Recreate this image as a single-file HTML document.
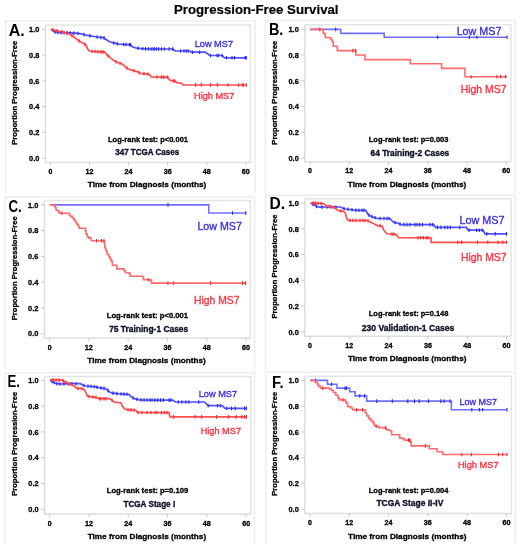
<!DOCTYPE html>
<html><head><meta charset="utf-8"><style>
html,body{margin:0;padding:0;background:#fff;width:520px;height:550px;overflow:hidden}
svg{display:block;filter:blur(0.4px)}
</style></head><body>
<svg width="520" height="550" viewBox="0 0 520 550" font-family='"Liberation Sans", sans-serif'><text x="174.00" y="13.80" font-size="12.7" font-weight="bold" text-anchor="start" fill="#000" textLength="164.50" lengthAdjust="spacingAndGlyphs" stroke="#000" stroke-width="0.2">Progression-Free Survival</text>
<path d="M5.50 192.50V20.80H255.00V192.50" fill="none" stroke="#eeeeee" stroke-width="1.6"/>
<path d="M45.40 25.00H250.40V162.40" fill="none" stroke="#e3e5e5" stroke-width="1.5"/>
<path d="M45.40 25.00V162.40H250.40" fill="none" stroke="#dcdfdf" stroke-width="1.5"/>
<text x="8.66" y="35.50" font-size="15.8" font-weight="bold" text-anchor="start" fill="#000" textLength="16.10" lengthAdjust="spacingAndGlyphs" >A.</text>
<line x1="41.90" y1="158.10" x2="45.40" y2="158.10" stroke="#bbb" stroke-width="0.8"/>
<text x="39.40" y="160.85" font-size="7.9" font-weight="bold" text-anchor="end" fill="#000" textLength="10.30" lengthAdjust="spacingAndGlyphs" stroke="#000" stroke-width="0.3">0.0</text>
<line x1="41.90" y1="132.34" x2="45.40" y2="132.34" stroke="#bbb" stroke-width="0.8"/>
<text x="39.40" y="135.09" font-size="7.9" font-weight="bold" text-anchor="end" fill="#000" textLength="10.30" lengthAdjust="spacingAndGlyphs" stroke="#000" stroke-width="0.3">0.2</text>
<line x1="41.90" y1="106.58" x2="45.40" y2="106.58" stroke="#bbb" stroke-width="0.8"/>
<text x="39.40" y="109.33" font-size="7.9" font-weight="bold" text-anchor="end" fill="#000" textLength="10.30" lengthAdjust="spacingAndGlyphs" stroke="#000" stroke-width="0.3">0.4</text>
<line x1="41.90" y1="80.82" x2="45.40" y2="80.82" stroke="#bbb" stroke-width="0.8"/>
<text x="39.40" y="83.57" font-size="7.9" font-weight="bold" text-anchor="end" fill="#000" textLength="10.30" lengthAdjust="spacingAndGlyphs" stroke="#000" stroke-width="0.3">0.6</text>
<line x1="41.90" y1="55.06" x2="45.40" y2="55.06" stroke="#bbb" stroke-width="0.8"/>
<text x="39.40" y="57.81" font-size="7.9" font-weight="bold" text-anchor="end" fill="#000" textLength="10.30" lengthAdjust="spacingAndGlyphs" stroke="#000" stroke-width="0.3">0.8</text>
<line x1="41.90" y1="29.30" x2="45.40" y2="29.30" stroke="#bbb" stroke-width="0.8"/>
<text x="39.40" y="32.05" font-size="7.9" font-weight="bold" text-anchor="end" fill="#000" textLength="10.30" lengthAdjust="spacingAndGlyphs" stroke="#000" stroke-width="0.3">1.0</text>
<line x1="50.50" y1="162.40" x2="50.50" y2="165.40" stroke="#bbb" stroke-width="0.8"/>
<text x="50.50" y="174.00" font-size="6.9" font-weight="bold" text-anchor="middle" fill="#000"  stroke="#000" stroke-width="0.3">0</text>
<line x1="89.56" y1="162.40" x2="89.56" y2="165.40" stroke="#bbb" stroke-width="0.8"/>
<text x="89.56" y="174.00" font-size="6.9" font-weight="bold" text-anchor="middle" fill="#000" textLength="8.00" lengthAdjust="spacingAndGlyphs" stroke="#000" stroke-width="0.3">12</text>
<line x1="128.62" y1="162.40" x2="128.62" y2="165.40" stroke="#bbb" stroke-width="0.8"/>
<text x="128.62" y="174.00" font-size="6.9" font-weight="bold" text-anchor="middle" fill="#000" textLength="8.00" lengthAdjust="spacingAndGlyphs" stroke="#000" stroke-width="0.3">24</text>
<line x1="167.68" y1="162.40" x2="167.68" y2="165.40" stroke="#bbb" stroke-width="0.8"/>
<text x="167.68" y="174.00" font-size="6.9" font-weight="bold" text-anchor="middle" fill="#000" textLength="8.00" lengthAdjust="spacingAndGlyphs" stroke="#000" stroke-width="0.3">36</text>
<line x1="206.74" y1="162.40" x2="206.74" y2="165.40" stroke="#bbb" stroke-width="0.8"/>
<text x="206.74" y="174.00" font-size="6.9" font-weight="bold" text-anchor="middle" fill="#000" textLength="8.00" lengthAdjust="spacingAndGlyphs" stroke="#000" stroke-width="0.3">48</text>
<line x1="245.80" y1="162.40" x2="245.80" y2="165.40" stroke="#bbb" stroke-width="0.8"/>
<text x="245.80" y="174.00" font-size="6.9" font-weight="bold" text-anchor="middle" fill="#000" textLength="8.00" lengthAdjust="spacingAndGlyphs" stroke="#000" stroke-width="0.3">60</text>
<text x="0" y="0" font-size="7.8" font-weight="bold" text-anchor="middle" fill="#000" transform="translate(16.90,92.70) rotate(-90)" textLength="104" lengthAdjust="spacingAndGlyphs" stroke="#000" stroke-width="0.3">Proportion Progression-Free</text>
<text x="147.10" y="187.40" font-size="8.0" font-weight="bold" text-anchor="middle" fill="#000" textLength="118.50" lengthAdjust="spacingAndGlyphs" stroke="#000" stroke-width="0.3">Time from Diagnosis (months)</text>
<text x="108.00" y="142.20" font-size="7.4" font-weight="bold" text-anchor="start" fill="#000" textLength="80.00" lengthAdjust="spacingAndGlyphs" stroke="#000" stroke-width="0.3">Log-rank test: p&lt;0.001</text>
<text x="115.22" y="155.40" font-size="8.6" font-weight="bold" text-anchor="start" fill="#0e1228" textLength="64.00" lengthAdjust="spacingAndGlyphs" stroke="#0e1228" stroke-width="0.35">347 TCGA Cases</text>
<text x="194.66" y="46.70" font-size="9.8" font-weight="normal" text-anchor="start" fill="#3b2fe0" textLength="38.40" lengthAdjust="spacingAndGlyphs" stroke="#3b2fe0" stroke-width="0.35">Low MS7</text>
<text x="194.00" y="98.70" font-size="9.8" font-weight="normal" text-anchor="start" fill="#ff3040" textLength="40.34" lengthAdjust="spacingAndGlyphs" stroke="#ff3040" stroke-width="0.35">High MS7</text>
<polyline points="50.90,29.40 52.50,30.60 54.90,31.90 57.20,32.50 71.10,32.80 80.30,33.70 86.10,35.20 94.20,36.50 100.00,37.40 103.50,37.50 105.80,39.20 109.20,41.50 112.70,42.70 118.50,44.10 123.10,44.40 130.60,44.80 132.30,46.70 135.80,47.90 141.50,48.70 150.00,49.00 173.10,49.00 173.70,49.80 175.40,51.00 190.40,51.00 191.00,52.20 205.40,52.20 206.50,53.00 208.00,54.00 209.50,55.50 222.50,55.50 223.50,57.00 224.50,57.80 246.50,57.80" fill="none" stroke="#5050ff" stroke-width="1.7" stroke-linejoin="miter"/>
<path d="M55.00 30.13v3.6M58.00 30.72v3.6M61.00 30.78v3.6M64.00 30.85v3.6M67.00 30.91v3.6M70.00 30.98v3.6M74.00 31.28v3.6M78.00 31.68v3.6M84.00 32.86v3.6M90.00 34.03v3.6M97.00 35.13v3.6M101.00 35.63v3.6M104.00 36.07v3.6M113.80 41.17v3.6M117.30 42.01v3.6M123.70 42.63v3.6M126.00 42.75v3.6M129.40 42.94v3.6M130.60 43.00v3.6M138.10 46.42v3.6M142.70 46.94v3.6M145.60 47.04v3.6M148.50 47.15v3.6M151.20 47.20v3.6M153.10 47.20v3.6M154.60 47.20v3.6M156.50 47.20v3.6M158.70 47.20v3.6M161.50 47.20v3.6M164.40 47.20v3.6M169.00 47.20v3.6M172.50 47.20v3.6M180.60 49.20v3.6M184.00 49.20v3.6M186.30 49.20v3.6M188.10 49.20v3.6M192.50 50.40v3.6M199.60 50.40v3.6M210.50 53.70v3.6M217.00 53.70v3.6M218.50 53.70v3.6M222.00 53.70v3.6M226.50 56.00v3.6M232.00 56.00v3.6M234.50 56.00v3.6M245.00 56.00v3.6M246.30 56.00v3.6" stroke="#2626ff" stroke-width="1.1" fill="none"/>
<polyline points="50.90,29.20 54.90,30.20 59.50,31.30 65.30,32.50 69.90,34.20 73.40,36.50 76.80,39.40 80.30,41.70 83.80,43.50 86.10,45.20 87.80,49.20 89.50,51.00 100.00,51.90 104.60,51.90 106.90,54.80 110.40,57.70 113.80,60.60 117.30,62.50 121.30,63.50 123.10,64.60 125.40,66.90 128.80,69.20 132.30,70.40 136.90,71.50 140.40,73.30 146.20,73.80 149.60,74.40 151.20,76.90 167.90,77.20 169.00,79.20 170.80,80.60 174.80,81.00 176.50,82.50 181.70,83.30 182.90,84.80 246.50,85.00" fill="none" stroke="#ff5050" stroke-width="1.7" stroke-linejoin="miter"/>
<path d="M53.00 27.93v3.6M57.00 28.90v3.6M62.00 30.02v3.6M67.00 31.33v3.6M72.00 33.78v3.6M79.00 39.05v3.6M85.00 42.59v3.6M92.00 49.41v3.6M95.00 49.67v3.6M98.00 49.93v3.6M101.00 50.10v3.6M103.00 50.10v3.6M108.00 53.91v3.6M116.00 59.99v3.6M120.00 61.38v3.6M127.00 66.18v3.6M134.00 69.01v3.6M139.00 70.78v3.6M144.00 71.81v3.6M148.00 72.32v3.6M156.90 75.20v3.6M161.50 75.29v3.6M163.80 75.33v3.6M167.30 75.39v3.6M173.10 79.03v3.6M174.80 79.20v3.6M195.60 83.04v3.6M201.30 83.06v3.6M210.50 83.09v3.6M217.50 83.11v3.6M228.00 83.14v3.6M238.50 83.17v3.6M242.00 83.19v3.6M243.50 83.19v3.6M246.30 83.20v3.6" stroke="#ff2636" stroke-width="1.1" fill="none"/>
<path d="M265.40 193.00V20.50H515.30V193.00" fill="none" stroke="#eeeeee" stroke-width="1.6"/>
<path d="M304.80 24.80H510.90V161.80" fill="none" stroke="#e3e5e5" stroke-width="1.5"/>
<path d="M304.80 24.80V161.80H510.90" fill="none" stroke="#dcdfdf" stroke-width="1.5"/>
<text x="268.90" y="34.80" font-size="15.8" font-weight="bold" text-anchor="start" fill="#000" textLength="14.40" lengthAdjust="spacingAndGlyphs" >B.</text>
<line x1="301.30" y1="158.10" x2="304.80" y2="158.10" stroke="#bbb" stroke-width="0.8"/>
<text x="298.80" y="160.85" font-size="7.9" font-weight="bold" text-anchor="end" fill="#000" textLength="10.30" lengthAdjust="spacingAndGlyphs" stroke="#000" stroke-width="0.3">0.0</text>
<line x1="301.30" y1="132.32" x2="304.80" y2="132.32" stroke="#bbb" stroke-width="0.8"/>
<text x="298.80" y="135.07" font-size="7.9" font-weight="bold" text-anchor="end" fill="#000" textLength="10.30" lengthAdjust="spacingAndGlyphs" stroke="#000" stroke-width="0.3">0.2</text>
<line x1="301.30" y1="106.54" x2="304.80" y2="106.54" stroke="#bbb" stroke-width="0.8"/>
<text x="298.80" y="109.29" font-size="7.9" font-weight="bold" text-anchor="end" fill="#000" textLength="10.30" lengthAdjust="spacingAndGlyphs" stroke="#000" stroke-width="0.3">0.4</text>
<line x1="301.30" y1="80.76" x2="304.80" y2="80.76" stroke="#bbb" stroke-width="0.8"/>
<text x="298.80" y="83.51" font-size="7.9" font-weight="bold" text-anchor="end" fill="#000" textLength="10.30" lengthAdjust="spacingAndGlyphs" stroke="#000" stroke-width="0.3">0.6</text>
<line x1="301.30" y1="54.98" x2="304.80" y2="54.98" stroke="#bbb" stroke-width="0.8"/>
<text x="298.80" y="57.73" font-size="7.9" font-weight="bold" text-anchor="end" fill="#000" textLength="10.30" lengthAdjust="spacingAndGlyphs" stroke="#000" stroke-width="0.3">0.8</text>
<line x1="301.30" y1="29.20" x2="304.80" y2="29.20" stroke="#bbb" stroke-width="0.8"/>
<text x="298.80" y="31.95" font-size="7.9" font-weight="bold" text-anchor="end" fill="#000" textLength="10.30" lengthAdjust="spacingAndGlyphs" stroke="#000" stroke-width="0.3">1.0</text>
<line x1="310.00" y1="161.80" x2="310.00" y2="164.80" stroke="#bbb" stroke-width="0.8"/>
<text x="310.00" y="173.40" font-size="6.9" font-weight="bold" text-anchor="middle" fill="#000"  stroke="#000" stroke-width="0.3">0</text>
<line x1="349.26" y1="161.80" x2="349.26" y2="164.80" stroke="#bbb" stroke-width="0.8"/>
<text x="349.26" y="173.40" font-size="6.9" font-weight="bold" text-anchor="middle" fill="#000" textLength="8.00" lengthAdjust="spacingAndGlyphs" stroke="#000" stroke-width="0.3">12</text>
<line x1="388.52" y1="161.80" x2="388.52" y2="164.80" stroke="#bbb" stroke-width="0.8"/>
<text x="388.52" y="173.40" font-size="6.9" font-weight="bold" text-anchor="middle" fill="#000" textLength="8.00" lengthAdjust="spacingAndGlyphs" stroke="#000" stroke-width="0.3">24</text>
<line x1="427.78" y1="161.80" x2="427.78" y2="164.80" stroke="#bbb" stroke-width="0.8"/>
<text x="427.78" y="173.40" font-size="6.9" font-weight="bold" text-anchor="middle" fill="#000" textLength="8.00" lengthAdjust="spacingAndGlyphs" stroke="#000" stroke-width="0.3">36</text>
<line x1="467.04" y1="161.80" x2="467.04" y2="164.80" stroke="#bbb" stroke-width="0.8"/>
<text x="467.04" y="173.40" font-size="6.9" font-weight="bold" text-anchor="middle" fill="#000" textLength="8.00" lengthAdjust="spacingAndGlyphs" stroke="#000" stroke-width="0.3">48</text>
<line x1="506.30" y1="161.80" x2="506.30" y2="164.80" stroke="#bbb" stroke-width="0.8"/>
<text x="506.30" y="173.40" font-size="6.9" font-weight="bold" text-anchor="middle" fill="#000" textLength="8.00" lengthAdjust="spacingAndGlyphs" stroke="#000" stroke-width="0.3">60</text>
<text x="0" y="0" font-size="7.8" font-weight="bold" text-anchor="middle" fill="#000" transform="translate(276.80,92.65) rotate(-90)" textLength="104" lengthAdjust="spacingAndGlyphs" stroke="#000" stroke-width="0.3">Proportion Progression-Free</text>
<text x="407.05" y="186.80" font-size="8.0" font-weight="bold" text-anchor="middle" fill="#000" textLength="118.50" lengthAdjust="spacingAndGlyphs" stroke="#000" stroke-width="0.3">Time from Diagnosis (months)</text>
<text x="368.78" y="142.20" font-size="7.4" font-weight="bold" text-anchor="start" fill="#000" textLength="79.66" lengthAdjust="spacingAndGlyphs" stroke="#000" stroke-width="0.3">Log-rank test: p=0.003</text>
<text x="370.50" y="155.50" font-size="8.6" font-weight="bold" text-anchor="start" fill="#0e1228" textLength="78.72" lengthAdjust="spacingAndGlyphs" stroke="#0e1228" stroke-width="0.35">64 Training-2 Cases</text>
<text x="456.66" y="34.70" font-size="11.2" font-weight="normal" text-anchor="start" fill="#3b2fe0" textLength="44.74" lengthAdjust="spacingAndGlyphs" stroke="#3b2fe0" stroke-width="0.35">Low MS7</text>
<text x="460.66" y="92.70" font-size="11.2" font-weight="normal" text-anchor="start" fill="#ff3040" textLength="45.90" lengthAdjust="spacingAndGlyphs" stroke="#ff3040" stroke-width="0.35">High MS7</text>
<polyline points="310.10,29.40 340.70,29.40 340.70,33.40 384.20,33.40 384.20,37.30 507.00,37.30" fill="none" stroke="#7070ff" stroke-width="1.6" stroke-linejoin="miter"/>
<path d="M335.70 27.60v3.6M437.70 35.50v3.6M469.40 35.50v3.6M476.90 35.50v3.6M507.00 35.50v3.6" stroke="#2626ff" stroke-width="1.1" fill="none"/>
<polyline points="310.10,29.40 323.20,29.40 323.20,33.40 325.20,33.40 325.20,37.50 330.60,37.50 330.60,39.50 332.00,39.50 332.00,41.50 333.30,41.50 333.30,46.20 337.30,46.20 337.30,50.60 355.90,50.60 355.90,55.00 364.90,55.00 364.90,59.60 410.30,59.60 410.30,63.80 441.60,63.80 441.60,68.40 465.00,68.40 465.00,76.80 507.00,76.80" fill="none" stroke="#ff6c6c" stroke-width="1.6" stroke-linejoin="miter"/>
<path d="M319.80 27.60v3.6M352.80 48.80v3.6M355.50 48.80v3.6M471.10 75.00v3.6M496.90 75.00v3.6M500.60 75.00v3.6M505.50 75.00v3.6" stroke="#ff2636" stroke-width="1.1" fill="none"/>
<path d="M5.40 369.40V196.90H254.60V369.40" fill="none" stroke="#eeeeee" stroke-width="1.6"/>
<path d="M44.40 200.40H250.40V338.00" fill="none" stroke="#e3e5e5" stroke-width="1.5"/>
<path d="M44.40 200.40V338.00H250.40" fill="none" stroke="#dcdfdf" stroke-width="1.5"/>
<text x="8.48" y="211.70" font-size="15.8" font-weight="bold" text-anchor="start" fill="#000" textLength="13.36" lengthAdjust="spacingAndGlyphs" >C.</text>
<line x1="40.90" y1="333.70" x2="44.40" y2="333.70" stroke="#bbb" stroke-width="0.8"/>
<text x="38.40" y="336.45" font-size="7.9" font-weight="bold" text-anchor="end" fill="#000" textLength="10.30" lengthAdjust="spacingAndGlyphs" stroke="#000" stroke-width="0.3">0.0</text>
<line x1="40.90" y1="307.92" x2="44.40" y2="307.92" stroke="#bbb" stroke-width="0.8"/>
<text x="38.40" y="310.67" font-size="7.9" font-weight="bold" text-anchor="end" fill="#000" textLength="10.30" lengthAdjust="spacingAndGlyphs" stroke="#000" stroke-width="0.3">0.2</text>
<line x1="40.90" y1="282.14" x2="44.40" y2="282.14" stroke="#bbb" stroke-width="0.8"/>
<text x="38.40" y="284.89" font-size="7.9" font-weight="bold" text-anchor="end" fill="#000" textLength="10.30" lengthAdjust="spacingAndGlyphs" stroke="#000" stroke-width="0.3">0.4</text>
<line x1="40.90" y1="256.36" x2="44.40" y2="256.36" stroke="#bbb" stroke-width="0.8"/>
<text x="38.40" y="259.11" font-size="7.9" font-weight="bold" text-anchor="end" fill="#000" textLength="10.30" lengthAdjust="spacingAndGlyphs" stroke="#000" stroke-width="0.3">0.6</text>
<line x1="40.90" y1="230.58" x2="44.40" y2="230.58" stroke="#bbb" stroke-width="0.8"/>
<text x="38.40" y="233.33" font-size="7.9" font-weight="bold" text-anchor="end" fill="#000" textLength="10.30" lengthAdjust="spacingAndGlyphs" stroke="#000" stroke-width="0.3">0.8</text>
<line x1="40.90" y1="204.80" x2="44.40" y2="204.80" stroke="#bbb" stroke-width="0.8"/>
<text x="38.40" y="207.55" font-size="7.9" font-weight="bold" text-anchor="end" fill="#000" textLength="10.30" lengthAdjust="spacingAndGlyphs" stroke="#000" stroke-width="0.3">1.0</text>
<line x1="49.60" y1="338.00" x2="49.60" y2="341.00" stroke="#bbb" stroke-width="0.8"/>
<text x="49.60" y="349.60" font-size="6.9" font-weight="bold" text-anchor="middle" fill="#000"  stroke="#000" stroke-width="0.3">0</text>
<line x1="88.88" y1="338.00" x2="88.88" y2="341.00" stroke="#bbb" stroke-width="0.8"/>
<text x="88.88" y="349.60" font-size="6.9" font-weight="bold" text-anchor="middle" fill="#000" textLength="8.00" lengthAdjust="spacingAndGlyphs" stroke="#000" stroke-width="0.3">12</text>
<line x1="128.16" y1="338.00" x2="128.16" y2="341.00" stroke="#bbb" stroke-width="0.8"/>
<text x="128.16" y="349.60" font-size="6.9" font-weight="bold" text-anchor="middle" fill="#000" textLength="8.00" lengthAdjust="spacingAndGlyphs" stroke="#000" stroke-width="0.3">24</text>
<line x1="167.44" y1="338.00" x2="167.44" y2="341.00" stroke="#bbb" stroke-width="0.8"/>
<text x="167.44" y="349.60" font-size="6.9" font-weight="bold" text-anchor="middle" fill="#000" textLength="8.00" lengthAdjust="spacingAndGlyphs" stroke="#000" stroke-width="0.3">36</text>
<line x1="206.72" y1="338.00" x2="206.72" y2="341.00" stroke="#bbb" stroke-width="0.8"/>
<text x="206.72" y="349.60" font-size="6.9" font-weight="bold" text-anchor="middle" fill="#000" textLength="8.00" lengthAdjust="spacingAndGlyphs" stroke="#000" stroke-width="0.3">48</text>
<line x1="246.00" y1="338.00" x2="246.00" y2="341.00" stroke="#bbb" stroke-width="0.8"/>
<text x="246.00" y="349.60" font-size="6.9" font-weight="bold" text-anchor="middle" fill="#000" textLength="8.00" lengthAdjust="spacingAndGlyphs" stroke="#000" stroke-width="0.3">60</text>
<text x="0" y="0" font-size="7.8" font-weight="bold" text-anchor="middle" fill="#000" transform="translate(16.80,268.25) rotate(-90)" textLength="104" lengthAdjust="spacingAndGlyphs" stroke="#000" stroke-width="0.3">Proportion Progression-Free</text>
<text x="146.60" y="363.00" font-size="8.0" font-weight="bold" text-anchor="middle" fill="#000" textLength="118.50" lengthAdjust="spacingAndGlyphs" stroke="#000" stroke-width="0.3">Time from Diagnosis (months)</text>
<text x="106.72" y="318.00" font-size="7.4" font-weight="bold" text-anchor="start" fill="#000" textLength="81.28" lengthAdjust="spacingAndGlyphs" stroke="#000" stroke-width="0.3">Log-rank test: p&lt;0.001</text>
<text x="109.16" y="331.60" font-size="8.6" font-weight="bold" text-anchor="start" fill="#0e1228" textLength="79.06" lengthAdjust="spacingAndGlyphs" stroke="#0e1228" stroke-width="0.35">75 Training-1 Cases</text>
<text x="197.38" y="229.60" font-size="11.3" font-weight="normal" text-anchor="start" fill="#3b2fe0" textLength="44.46" lengthAdjust="spacingAndGlyphs" stroke="#3b2fe0" stroke-width="0.35">Low MS7</text>
<text x="194.00" y="303.70" font-size="11.2" font-weight="normal" text-anchor="start" fill="#ff3040" textLength="45.40" lengthAdjust="spacingAndGlyphs" stroke="#ff3040" stroke-width="0.35">High MS7</text>
<polyline points="53.50,204.90 208.75,204.90 208.75,213.00 246.20,213.00" fill="none" stroke="#7070ff" stroke-width="1.6" stroke-linejoin="miter"/>
<path d="M168.00 203.10v3.6M232.50 211.20v3.6M245.80 211.20v3.6" stroke="#2626ff" stroke-width="1.1" fill="none"/>
<polyline points="49.20,204.90 54.30,204.90 54.30,206.30 55.20,206.30 55.20,207.80 56.10,207.80 56.10,210.20 57.80,210.20 57.80,211.00 59.00,211.00 59.00,212.10 59.50,212.10 59.50,213.30 69.30,213.30 69.30,215.00 70.50,215.00 70.50,216.40 72.20,216.40 72.20,217.50 73.40,217.50 73.40,219.00 74.50,219.00 74.50,220.80 75.70,220.80 75.70,222.50 76.80,222.50 76.80,224.20 78.20,224.20 78.20,226.30 79.20,226.30 79.20,228.30 85.50,228.30 85.50,231.20 86.10,231.20 86.10,234.00 87.20,234.00 87.20,236.70 89.00,236.70 89.00,238.10 91.30,238.10 91.30,240.70 104.40,240.70 104.40,244.00 104.80,244.00 104.80,247.50 105.50,247.50 105.50,249.00 106.10,249.00 106.10,251.00 107.20,251.00 107.20,254.50 109.00,254.50 109.00,256.80 110.10,256.80 110.10,259.10 111.30,259.10 111.30,261.40 112.40,261.40 112.40,265.40 116.80,265.40 116.80,268.90 124.00,268.90 124.00,270.80 125.40,270.80 125.40,272.70 129.70,272.70 129.70,274.50 130.30,274.50 130.30,276.20 143.00,276.20 143.00,278.00 143.60,278.00 143.60,279.80 151.10,279.80 151.10,281.50 151.60,281.50 151.60,283.10 246.20,283.10" fill="none" stroke="#ff6c6c" stroke-width="1.6" stroke-linejoin="miter"/>
<path d="M61.80 211.50v3.6M96.50 238.90v3.6M101.50 238.90v3.6M101.60 238.90v3.6M104.00 238.90v3.6M148.30 278.00v3.6M168.00 281.30v3.6M173.70 281.30v3.6M210.50 281.30v3.6M242.50 281.30v3.6M245.50 281.30v3.6" stroke="#ff2636" stroke-width="1.1" fill="none"/>
<path d="M265.50 370.00V195.40H515.60V370.00" fill="none" stroke="#eeeeee" stroke-width="1.6"/>
<path d="M304.80 198.80H511.20V336.30" fill="none" stroke="#e3e5e5" stroke-width="1.5"/>
<path d="M304.80 198.80V336.30H511.20" fill="none" stroke="#dcdfdf" stroke-width="1.5"/>
<text x="269.62" y="208.60" font-size="15.8" font-weight="bold" text-anchor="start" fill="#000" textLength="15.60" lengthAdjust="spacingAndGlyphs" >D.</text>
<line x1="301.30" y1="331.90" x2="304.80" y2="331.90" stroke="#bbb" stroke-width="0.8"/>
<text x="298.80" y="334.65" font-size="7.9" font-weight="bold" text-anchor="end" fill="#000" textLength="10.30" lengthAdjust="spacingAndGlyphs" stroke="#000" stroke-width="0.3">0.0</text>
<line x1="301.30" y1="306.14" x2="304.80" y2="306.14" stroke="#bbb" stroke-width="0.8"/>
<text x="298.80" y="308.89" font-size="7.9" font-weight="bold" text-anchor="end" fill="#000" textLength="10.30" lengthAdjust="spacingAndGlyphs" stroke="#000" stroke-width="0.3">0.2</text>
<line x1="301.30" y1="280.38" x2="304.80" y2="280.38" stroke="#bbb" stroke-width="0.8"/>
<text x="298.80" y="283.13" font-size="7.9" font-weight="bold" text-anchor="end" fill="#000" textLength="10.30" lengthAdjust="spacingAndGlyphs" stroke="#000" stroke-width="0.3">0.4</text>
<line x1="301.30" y1="254.62" x2="304.80" y2="254.62" stroke="#bbb" stroke-width="0.8"/>
<text x="298.80" y="257.37" font-size="7.9" font-weight="bold" text-anchor="end" fill="#000" textLength="10.30" lengthAdjust="spacingAndGlyphs" stroke="#000" stroke-width="0.3">0.6</text>
<line x1="301.30" y1="228.86" x2="304.80" y2="228.86" stroke="#bbb" stroke-width="0.8"/>
<text x="298.80" y="231.61" font-size="7.9" font-weight="bold" text-anchor="end" fill="#000" textLength="10.30" lengthAdjust="spacingAndGlyphs" stroke="#000" stroke-width="0.3">0.8</text>
<line x1="301.30" y1="203.10" x2="304.80" y2="203.10" stroke="#bbb" stroke-width="0.8"/>
<text x="298.80" y="205.85" font-size="7.9" font-weight="bold" text-anchor="end" fill="#000" textLength="10.30" lengthAdjust="spacingAndGlyphs" stroke="#000" stroke-width="0.3">1.0</text>
<line x1="310.00" y1="336.30" x2="310.00" y2="339.30" stroke="#bbb" stroke-width="0.8"/>
<text x="310.00" y="347.90" font-size="6.9" font-weight="bold" text-anchor="middle" fill="#000"  stroke="#000" stroke-width="0.3">0</text>
<line x1="349.30" y1="336.30" x2="349.30" y2="339.30" stroke="#bbb" stroke-width="0.8"/>
<text x="349.30" y="347.90" font-size="6.9" font-weight="bold" text-anchor="middle" fill="#000" textLength="8.00" lengthAdjust="spacingAndGlyphs" stroke="#000" stroke-width="0.3">12</text>
<line x1="388.60" y1="336.30" x2="388.60" y2="339.30" stroke="#bbb" stroke-width="0.8"/>
<text x="388.60" y="347.90" font-size="6.9" font-weight="bold" text-anchor="middle" fill="#000" textLength="8.00" lengthAdjust="spacingAndGlyphs" stroke="#000" stroke-width="0.3">24</text>
<line x1="427.90" y1="336.30" x2="427.90" y2="339.30" stroke="#bbb" stroke-width="0.8"/>
<text x="427.90" y="347.90" font-size="6.9" font-weight="bold" text-anchor="middle" fill="#000" textLength="8.00" lengthAdjust="spacingAndGlyphs" stroke="#000" stroke-width="0.3">36</text>
<line x1="467.20" y1="336.30" x2="467.20" y2="339.30" stroke="#bbb" stroke-width="0.8"/>
<text x="467.20" y="347.90" font-size="6.9" font-weight="bold" text-anchor="middle" fill="#000" textLength="8.00" lengthAdjust="spacingAndGlyphs" stroke="#000" stroke-width="0.3">48</text>
<line x1="506.50" y1="336.30" x2="506.50" y2="339.30" stroke="#bbb" stroke-width="0.8"/>
<text x="506.50" y="347.90" font-size="6.9" font-weight="bold" text-anchor="middle" fill="#000" textLength="8.00" lengthAdjust="spacingAndGlyphs" stroke="#000" stroke-width="0.3">60</text>
<text x="0" y="0" font-size="7.8" font-weight="bold" text-anchor="middle" fill="#000" transform="translate(276.90,266.50) rotate(-90)" textLength="104" lengthAdjust="spacingAndGlyphs" stroke="#000" stroke-width="0.3">Proportion Progression-Free</text>
<text x="407.20" y="361.30" font-size="8.0" font-weight="bold" text-anchor="middle" fill="#000" textLength="118.50" lengthAdjust="spacingAndGlyphs" stroke="#000" stroke-width="0.3">Time from Diagnosis (months)</text>
<text x="368.78" y="316.10" font-size="7.4" font-weight="bold" text-anchor="start" fill="#000" textLength="79.66" lengthAdjust="spacingAndGlyphs" stroke="#000" stroke-width="0.3">Log-rank test: p=0.148</text>
<text x="361.78" y="330.50" font-size="8.6" font-weight="bold" text-anchor="start" fill="#0e1228" textLength="92.50" lengthAdjust="spacingAndGlyphs" stroke="#0e1228" stroke-width="0.35">230 Validation-1 Cases</text>
<text x="459.38" y="223.60" font-size="11.2" font-weight="normal" text-anchor="start" fill="#3b2fe0" textLength="45.24" lengthAdjust="spacingAndGlyphs" stroke="#3b2fe0" stroke-width="0.35">Low MS7</text>
<text x="461.00" y="260.60" font-size="11.2" font-weight="normal" text-anchor="start" fill="#ff3040" textLength="45.56" lengthAdjust="spacingAndGlyphs" stroke="#ff3040" stroke-width="0.35">High MS7</text>
<polyline points="310.60,203.20 312.90,204.30 315.20,205.50 317.50,207.00 321.00,207.20 324.50,207.00 340.60,207.00 342.90,208.20 345.20,209.00 349.80,209.50 354.50,210.10 365.80,210.30 366.90,212.40 368.10,214.70 370.40,215.90 372.70,217.00 377.30,218.50 390.00,218.50 391.70,220.50 393.50,222.20 398.10,223.20 401.00,224.60 433.70,224.60 435.50,227.40 466.30,227.40 468.20,230.20 483.10,230.20 485.00,233.90 507.30,233.90" fill="none" stroke="#5050ff" stroke-width="1.7" stroke-linejoin="miter"/>
<path d="M313.00 202.55v3.6M316.50 204.55v3.6M322.00 205.34v3.6M327.00 205.20v3.6M331.00 205.20v3.6M336.00 205.20v3.6M344.00 206.78v3.6M348.00 207.50v3.6M352.00 207.98v3.6M356.00 208.33v3.6M359.00 208.38v3.6M362.00 208.43v3.6M364.00 208.47v3.6M369.00 213.37v3.6M372.00 214.87v3.6M375.00 215.95v3.6M380.00 216.70v3.6M384.00 216.70v3.6M387.00 216.70v3.6M389.00 216.70v3.6M395.00 220.73v3.6M400.00 222.32v3.6M404.00 222.80v3.6M407.00 222.80v3.6M410.00 222.80v3.6M415.00 222.80v3.6M417.00 222.80v3.6M419.70 222.80v3.6M422.50 222.80v3.6M430.00 222.80v3.6M432.70 222.80v3.6M437.40 225.60v3.6M441.00 225.60v3.6M444.90 225.60v3.6M447.70 225.60v3.6M450.40 225.60v3.6M459.80 225.60v3.6M469.10 228.40v3.6M476.60 228.40v3.6M479.40 228.40v3.6M482.20 228.40v3.6M486.80 232.10v3.6M495.20 232.10v3.6M506.40 232.10v3.6" stroke="#2626ff" stroke-width="1.1" fill="none"/>
<polyline points="310.60,202.80 323.30,203.60 325.00,204.60 326.40,206.20 332.50,206.60 334.50,207.80 336.60,209.30 338.30,210.60 343.80,211.30 345.50,213.50 346.30,217.00 347.30,219.50 348.50,220.30 367.20,220.50 369.30,221.50 373.30,223.60 377.40,225.60 382.50,226.20 383.50,229.70 386.60,233.80 395.80,234.40 398.90,237.60 430.90,237.80 431.20,242.30 507.30,242.30" fill="none" stroke="#ff5050" stroke-width="1.7" stroke-linejoin="miter"/>
<path d="M313.00 201.15v3.6M315.00 201.28v3.6M318.00 201.47v3.6M321.00 201.66v3.6M329.00 204.57v3.6M334.00 205.70v3.6M341.00 209.14v3.6M350.00 218.52v3.6M353.00 218.55v3.6M356.00 218.58v3.6M360.00 218.62v3.6M363.00 218.66v3.6M365.00 218.68v3.6M368.00 219.08v3.6M380.00 224.11v3.6M392.00 232.35v3.6M394.00 232.48v3.6M418.00 235.92v3.6M420.60 235.94v3.6M423.40 235.95v3.6M426.20 235.97v3.6M428.00 235.98v3.6M457.90 240.50v3.6M461.60 240.50v3.6M477.50 240.50v3.6M487.80 240.50v3.6M498.00 240.50v3.6M502.70 240.50v3.6M506.40 240.50v3.6" stroke="#ff2636" stroke-width="1.1" fill="none"/>
<path d="M5.40 544.00V372.70H254.50V544.00" fill="none" stroke="#eeeeee" stroke-width="1.6"/>
<path d="M44.60 376.50H250.80V514.00" fill="none" stroke="#e3e5e5" stroke-width="1.5"/>
<path d="M44.60 376.50V514.00H250.80" fill="none" stroke="#dcdfdf" stroke-width="1.5"/>
<text x="7.40" y="387.00" font-size="15.8" font-weight="bold" text-anchor="start" fill="#000" textLength="12.44" lengthAdjust="spacingAndGlyphs" >E.</text>
<line x1="41.10" y1="509.30" x2="44.60" y2="509.30" stroke="#bbb" stroke-width="0.8"/>
<text x="38.60" y="512.05" font-size="7.9" font-weight="bold" text-anchor="end" fill="#000" textLength="10.30" lengthAdjust="spacingAndGlyphs" stroke="#000" stroke-width="0.3">0.0</text>
<line x1="41.10" y1="483.52" x2="44.60" y2="483.52" stroke="#bbb" stroke-width="0.8"/>
<text x="38.60" y="486.27" font-size="7.9" font-weight="bold" text-anchor="end" fill="#000" textLength="10.30" lengthAdjust="spacingAndGlyphs" stroke="#000" stroke-width="0.3">0.2</text>
<line x1="41.10" y1="457.74" x2="44.60" y2="457.74" stroke="#bbb" stroke-width="0.8"/>
<text x="38.60" y="460.49" font-size="7.9" font-weight="bold" text-anchor="end" fill="#000" textLength="10.30" lengthAdjust="spacingAndGlyphs" stroke="#000" stroke-width="0.3">0.4</text>
<line x1="41.10" y1="431.96" x2="44.60" y2="431.96" stroke="#bbb" stroke-width="0.8"/>
<text x="38.60" y="434.71" font-size="7.9" font-weight="bold" text-anchor="end" fill="#000" textLength="10.30" lengthAdjust="spacingAndGlyphs" stroke="#000" stroke-width="0.3">0.6</text>
<line x1="41.10" y1="406.18" x2="44.60" y2="406.18" stroke="#bbb" stroke-width="0.8"/>
<text x="38.60" y="408.93" font-size="7.9" font-weight="bold" text-anchor="end" fill="#000" textLength="10.30" lengthAdjust="spacingAndGlyphs" stroke="#000" stroke-width="0.3">0.8</text>
<line x1="41.10" y1="380.40" x2="44.60" y2="380.40" stroke="#bbb" stroke-width="0.8"/>
<text x="38.60" y="383.15" font-size="7.9" font-weight="bold" text-anchor="end" fill="#000" textLength="10.30" lengthAdjust="spacingAndGlyphs" stroke="#000" stroke-width="0.3">1.0</text>
<line x1="49.60" y1="514.00" x2="49.60" y2="517.00" stroke="#bbb" stroke-width="0.8"/>
<text x="49.60" y="525.60" font-size="6.9" font-weight="bold" text-anchor="middle" fill="#000"  stroke="#000" stroke-width="0.3">0</text>
<line x1="88.92" y1="514.00" x2="88.92" y2="517.00" stroke="#bbb" stroke-width="0.8"/>
<text x="88.92" y="525.60" font-size="6.9" font-weight="bold" text-anchor="middle" fill="#000" textLength="8.00" lengthAdjust="spacingAndGlyphs" stroke="#000" stroke-width="0.3">12</text>
<line x1="128.24" y1="514.00" x2="128.24" y2="517.00" stroke="#bbb" stroke-width="0.8"/>
<text x="128.24" y="525.60" font-size="6.9" font-weight="bold" text-anchor="middle" fill="#000" textLength="8.00" lengthAdjust="spacingAndGlyphs" stroke="#000" stroke-width="0.3">24</text>
<line x1="167.56" y1="514.00" x2="167.56" y2="517.00" stroke="#bbb" stroke-width="0.8"/>
<text x="167.56" y="525.60" font-size="6.9" font-weight="bold" text-anchor="middle" fill="#000" textLength="8.00" lengthAdjust="spacingAndGlyphs" stroke="#000" stroke-width="0.3">36</text>
<line x1="206.88" y1="514.00" x2="206.88" y2="517.00" stroke="#bbb" stroke-width="0.8"/>
<text x="206.88" y="525.60" font-size="6.9" font-weight="bold" text-anchor="middle" fill="#000" textLength="8.00" lengthAdjust="spacingAndGlyphs" stroke="#000" stroke-width="0.3">48</text>
<line x1="246.20" y1="514.00" x2="246.20" y2="517.00" stroke="#bbb" stroke-width="0.8"/>
<text x="246.20" y="525.60" font-size="6.9" font-weight="bold" text-anchor="middle" fill="#000" textLength="8.00" lengthAdjust="spacingAndGlyphs" stroke="#000" stroke-width="0.3">60</text>
<text x="0" y="0" font-size="7.8" font-weight="bold" text-anchor="middle" fill="#000" transform="translate(16.80,443.85) rotate(-90)" textLength="104" lengthAdjust="spacingAndGlyphs" stroke="#000" stroke-width="0.3">Proportion Progression-Free</text>
<text x="146.90" y="539.00" font-size="8.0" font-weight="bold" text-anchor="middle" fill="#000" textLength="118.50" lengthAdjust="spacingAndGlyphs" stroke="#000" stroke-width="0.3">Time from Diagnosis (months)</text>
<text x="106.72" y="493.20" font-size="7.4" font-weight="bold" text-anchor="start" fill="#000" textLength="81.50" lengthAdjust="spacingAndGlyphs" stroke="#000" stroke-width="0.3">Log-rank test: p=0.109</text>
<text x="123.44" y="506.60" font-size="8.6" font-weight="bold" text-anchor="start" fill="#0e1228" textLength="51.72" lengthAdjust="spacingAndGlyphs" stroke="#0e1228" stroke-width="0.35">TCGA Stage I</text>
<text x="198.66" y="396.70" font-size="9.8" font-weight="normal" text-anchor="start" fill="#3b2fe0" textLength="38.46" lengthAdjust="spacingAndGlyphs" stroke="#3b2fe0" stroke-width="0.35">Low MS7</text>
<text x="200.66" y="433.70" font-size="9.8" font-weight="normal" text-anchor="start" fill="#ff3040" textLength="40.34" lengthAdjust="spacingAndGlyphs" stroke="#ff3040" stroke-width="0.35">High MS7</text>
<polyline points="50.00,380.20 52.90,381.90 56.40,383.70 61.00,384.00 69.10,383.70 80.60,383.70 82.90,385.20 85.80,386.00 92.20,386.50 95.60,386.90 99.10,387.70 103.70,388.30 105.20,388.50 106.90,389.40 109.20,391.70 111.50,392.90 117.30,393.70 128.80,394.40 131.20,396.90 134.60,398.70 139.20,399.80 155.00,400.10 172.70,400.10 175.50,402.00 204.40,402.00 208.20,405.70 222.20,405.70 225.00,408.40 246.40,408.40" fill="none" stroke="#5050ff" stroke-width="1.7" stroke-linejoin="miter"/>
<path d="M52.00 379.57v3.6M54.00 380.67v3.6M57.00 381.94v3.6M60.00 382.13v3.6M64.00 382.09v3.6M68.00 381.94v3.6M72.00 381.90v3.6M76.00 381.90v3.6M84.00 383.70v3.6M88.00 384.37v3.6M91.00 384.61v3.6M94.00 384.91v3.6M97.00 385.42v3.6M101.00 386.15v3.6M104.00 386.54v3.6M108.00 388.70v3.6M113.00 391.31v3.6M117.00 391.86v3.6M121.00 392.13v3.6M124.00 392.31v3.6M127.00 392.49v3.6M133.00 396.05v3.6M137.00 397.47v3.6M141.00 398.03v3.6M144.00 398.09v3.6M147.00 398.15v3.6M150.00 398.21v3.6M152.00 398.24v3.6M155.00 398.30v3.6M157.80 398.30v3.6M160.60 398.30v3.6M163.40 398.30v3.6M169.00 398.30v3.6M170.90 398.30v3.6M178.30 400.20v3.6M182.00 400.20v3.6M185.80 400.20v3.6M188.80 400.20v3.6M198.80 400.20v3.6M208.20 403.90v3.6M217.50 403.90v3.6M220.30 403.90v3.6M226.80 406.60v3.6M231.50 406.60v3.6M235.20 406.60v3.6M244.60 406.60v3.6M246.40 406.60v3.6" stroke="#2626ff" stroke-width="1.1" fill="none"/>
<polyline points="50.00,379.80 62.20,380.20 65.00,381.70 67.90,383.10 71.40,384.80 74.80,386.50 76.60,388.30 80.60,388.30 84.10,389.40 85.80,392.30 87.50,396.30 92.20,396.90 96.80,397.50 99.10,398.70 109.20,398.70 111.50,399.80 114.40,402.10 120.80,402.70 122.50,406.20 124.80,409.00 126.50,409.60 135.80,410.20 137.50,412.50 169.00,412.60 170.00,416.90 246.40,416.90" fill="none" stroke="#ff5050" stroke-width="1.7" stroke-linejoin="miter"/>
<path d="M53.00 378.10v3.6M56.00 378.20v3.6M59.00 378.30v3.6M63.00 378.83v3.6M66.00 380.38v3.6M70.00 382.32v3.6M78.00 386.50v3.6M82.00 386.94v3.6M89.00 394.69v3.6M93.00 395.20v3.6M96.00 395.60v3.6M99.50 396.90v3.6M101.00 396.90v3.6M104.00 396.90v3.6M106.00 396.90v3.6M112.00 398.40v3.6M128.00 407.90v3.6M131.00 408.09v3.6M134.00 408.28v3.6M138.00 410.70v3.6M142.00 410.71v3.6M147.00 410.73v3.6M151.00 410.74v3.6M155.00 410.76v3.6M156.90 410.76v3.6M161.50 410.78v3.6M164.30 410.79v3.6M167.10 410.79v3.6M173.70 415.10v3.6M195.10 415.10v3.6M201.60 415.10v3.6M216.60 415.10v3.6M228.70 415.10v3.6M236.20 415.10v3.6M241.80 415.10v3.6M244.60 415.10v3.6M246.40 415.10v3.6" stroke="#ff2636" stroke-width="1.1" fill="none"/>
<path d="M265.80 543.50V372.30H515.50V543.50" fill="none" stroke="#eeeeee" stroke-width="1.6"/>
<path d="M304.80 376.30H511.40V513.60" fill="none" stroke="#e3e5e5" stroke-width="1.5"/>
<path d="M304.80 376.30V513.60H511.40" fill="none" stroke="#dcdfdf" stroke-width="1.5"/>
<text x="271.98" y="387.70" font-size="15.8" font-weight="bold" text-anchor="start" fill="#000" textLength="11.62" lengthAdjust="spacingAndGlyphs" >F.</text>
<line x1="301.30" y1="509.20" x2="304.80" y2="509.20" stroke="#bbb" stroke-width="0.8"/>
<text x="298.80" y="511.95" font-size="7.9" font-weight="bold" text-anchor="end" fill="#000" textLength="10.30" lengthAdjust="spacingAndGlyphs" stroke="#000" stroke-width="0.3">0.0</text>
<line x1="301.30" y1="483.44" x2="304.80" y2="483.44" stroke="#bbb" stroke-width="0.8"/>
<text x="298.80" y="486.19" font-size="7.9" font-weight="bold" text-anchor="end" fill="#000" textLength="10.30" lengthAdjust="spacingAndGlyphs" stroke="#000" stroke-width="0.3">0.2</text>
<line x1="301.30" y1="457.68" x2="304.80" y2="457.68" stroke="#bbb" stroke-width="0.8"/>
<text x="298.80" y="460.43" font-size="7.9" font-weight="bold" text-anchor="end" fill="#000" textLength="10.30" lengthAdjust="spacingAndGlyphs" stroke="#000" stroke-width="0.3">0.4</text>
<line x1="301.30" y1="431.92" x2="304.80" y2="431.92" stroke="#bbb" stroke-width="0.8"/>
<text x="298.80" y="434.67" font-size="7.9" font-weight="bold" text-anchor="end" fill="#000" textLength="10.30" lengthAdjust="spacingAndGlyphs" stroke="#000" stroke-width="0.3">0.6</text>
<line x1="301.30" y1="406.16" x2="304.80" y2="406.16" stroke="#bbb" stroke-width="0.8"/>
<text x="298.80" y="408.91" font-size="7.9" font-weight="bold" text-anchor="end" fill="#000" textLength="10.30" lengthAdjust="spacingAndGlyphs" stroke="#000" stroke-width="0.3">0.8</text>
<line x1="301.30" y1="380.40" x2="304.80" y2="380.40" stroke="#bbb" stroke-width="0.8"/>
<text x="298.80" y="383.15" font-size="7.9" font-weight="bold" text-anchor="end" fill="#000" textLength="10.30" lengthAdjust="spacingAndGlyphs" stroke="#000" stroke-width="0.3">1.0</text>
<line x1="310.00" y1="513.60" x2="310.00" y2="516.60" stroke="#bbb" stroke-width="0.8"/>
<text x="310.00" y="525.20" font-size="6.9" font-weight="bold" text-anchor="middle" fill="#000"  stroke="#000" stroke-width="0.3">0</text>
<line x1="349.28" y1="513.60" x2="349.28" y2="516.60" stroke="#bbb" stroke-width="0.8"/>
<text x="349.28" y="525.20" font-size="6.9" font-weight="bold" text-anchor="middle" fill="#000" textLength="8.00" lengthAdjust="spacingAndGlyphs" stroke="#000" stroke-width="0.3">12</text>
<line x1="388.56" y1="513.60" x2="388.56" y2="516.60" stroke="#bbb" stroke-width="0.8"/>
<text x="388.56" y="525.20" font-size="6.9" font-weight="bold" text-anchor="middle" fill="#000" textLength="8.00" lengthAdjust="spacingAndGlyphs" stroke="#000" stroke-width="0.3">24</text>
<line x1="427.84" y1="513.60" x2="427.84" y2="516.60" stroke="#bbb" stroke-width="0.8"/>
<text x="427.84" y="525.20" font-size="6.9" font-weight="bold" text-anchor="middle" fill="#000" textLength="8.00" lengthAdjust="spacingAndGlyphs" stroke="#000" stroke-width="0.3">36</text>
<line x1="467.12" y1="513.60" x2="467.12" y2="516.60" stroke="#bbb" stroke-width="0.8"/>
<text x="467.12" y="525.20" font-size="6.9" font-weight="bold" text-anchor="middle" fill="#000" textLength="8.00" lengthAdjust="spacingAndGlyphs" stroke="#000" stroke-width="0.3">48</text>
<line x1="506.40" y1="513.60" x2="506.40" y2="516.60" stroke="#bbb" stroke-width="0.8"/>
<text x="506.40" y="525.20" font-size="6.9" font-weight="bold" text-anchor="middle" fill="#000" textLength="8.00" lengthAdjust="spacingAndGlyphs" stroke="#000" stroke-width="0.3">60</text>
<text x="0" y="0" font-size="7.8" font-weight="bold" text-anchor="middle" fill="#000" transform="translate(277.20,443.80) rotate(-90)" textLength="104" lengthAdjust="spacingAndGlyphs" stroke="#000" stroke-width="0.3">Proportion Progression-Free</text>
<text x="407.30" y="538.60" font-size="8.0" font-weight="bold" text-anchor="middle" fill="#000" textLength="118.50" lengthAdjust="spacingAndGlyphs" stroke="#000" stroke-width="0.3">Time from Diagnosis (months)</text>
<text x="368.78" y="493.20" font-size="7.4" font-weight="bold" text-anchor="start" fill="#000" textLength="79.66" lengthAdjust="spacingAndGlyphs" stroke="#000" stroke-width="0.3">Log-rank test: p=0.004</text>
<text x="376.38" y="505.50" font-size="8.6" font-weight="bold" text-anchor="start" fill="#0e1228" textLength="66.90" lengthAdjust="spacingAndGlyphs" stroke="#0e1228" stroke-width="0.35">TCGA Stage II-IV</text>
<text x="459.50" y="405.10" font-size="9.8" font-weight="normal" text-anchor="start" fill="#3b2fe0" textLength="37.50" lengthAdjust="spacingAndGlyphs" stroke="#3b2fe0" stroke-width="0.35">Low MS7</text>
<text x="457.94" y="467.50" font-size="9.8" font-weight="normal" text-anchor="start" fill="#ff3040" textLength="40.62" lengthAdjust="spacingAndGlyphs" stroke="#ff3040" stroke-width="0.35">High MS7</text>
<polyline points="310.00,380.40 327.50,380.40 327.50,384.20 337.00,384.20 337.00,388.10 349.70,388.10 349.70,391.80 355.10,391.80 355.10,395.90 366.70,395.90 366.70,401.10 451.40,401.10 451.40,409.70 507.00,409.70" fill="none" stroke="#7070ff" stroke-width="1.6" stroke-linejoin="miter"/>
<path d="M315.40 378.60v3.6M331.60 382.40v3.6M345.00 386.30v3.6M346.50 386.30v3.6M359.80 394.10v3.6M364.50 394.10v3.6M376.80 399.30v3.6M392.30 399.30v3.6M407.80 399.30v3.6M414.50 399.30v3.6M419.20 399.30v3.6M428.40 399.30v3.6M440.90 399.30v3.6M444.20 399.30v3.6M450.00 399.30v3.6M471.80 407.90v3.6M479.40 407.90v3.6M482.70 407.90v3.6M507.00 407.90v3.6" stroke="#2626ff" stroke-width="1.1" fill="none"/>
<polyline points="310.00,380.40 314.70,380.40 314.70,381.40 315.50,381.40 315.50,382.40 317.40,382.40 317.40,384.40 318.60,384.40 318.60,386.40 320.50,386.40 320.50,388.10 329.60,388.10 329.60,389.10 331.50,389.10 331.50,390.50 333.50,390.50 333.50,392.50 335.80,392.50 335.80,395.20 337.90,395.20 337.90,397.90 339.30,397.90 339.30,399.90 345.40,399.90 345.40,401.50 346.30,401.50 346.30,403.30 347.70,403.30 347.70,406.60 350.80,406.60 350.80,408.00 352.80,408.00 352.80,409.90 365.40,409.90 365.40,413.00 366.70,413.00 366.70,415.90 368.70,415.90 368.70,418.60 370.80,418.60 370.80,420.60 372.80,420.60 372.80,422.60 374.10,422.60 374.10,425.30 375.50,425.30 375.50,426.20 378.80,426.20 378.80,427.60 385.60,427.60 385.60,428.80 386.90,428.80 386.90,430.00 389.60,430.00 389.60,430.70 391.60,430.70 391.60,434.70 399.70,434.70 399.70,438.10 402.40,438.10 402.40,438.70 404.40,438.70 404.40,440.10 410.50,440.10 410.50,442.10 411.20,442.10 411.20,445.90 429.20,445.90 429.20,448.80 437.10,448.80 437.10,451.70 442.80,451.70 442.80,454.50 507.00,454.50" fill="none" stroke="#ff6c6c" stroke-width="1.6" stroke-linejoin="miter"/>
<path d="M322.80 386.30v3.6M343.00 398.10v3.6M356.50 408.10v3.6M362.50 408.10v3.6M376.20 424.40v3.6M385.60 425.80v3.6M408.50 438.30v3.6M409.80 438.30v3.6M425.40 444.10v3.6M461.80 452.70v3.6M471.50 452.70v3.6M498.60 452.70v3.6M502.80 452.70v3.6M507.00 452.70v3.6" stroke="#ff2636" stroke-width="1.1" fill="none"/></svg>
</body></html>
